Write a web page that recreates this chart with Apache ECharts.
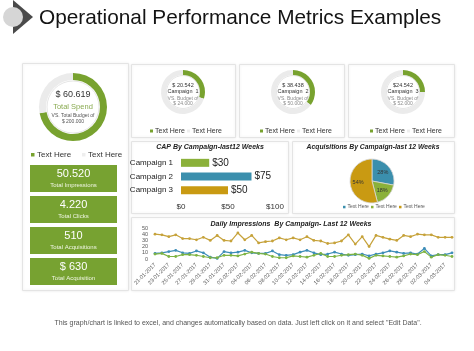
<!DOCTYPE html>
<html><head><meta charset="utf-8">
<script src="https://cdn.jsdelivr.net/npm/echarts@6/dist/echarts.min.js"></script>
<style>html,body{margin:0;padding:0;background:#fff}#c{width:474px;height:351px}</style>
</head><body><div id="c"></div>
<script>
const titleText = 'Operational Performance Metrics Examples';
const footerText = 'This graph/chart is linked to excel, and changes automatically based on data. Just left click on it and select "Edit Data".';

const spendShare = [72, 28];
const spendTexts = ['$ 60.619', 'Total Spend', 'VS. Total Budget of', '$ 200.000'];
const kpiValues = ['50.520', '4.220', '510', '$ 630'];
const kpiLabels = ['Total Impressions', 'Total Clicks', 'Total Acquisitions', 'Total Acquisition'];
const campaignNames = ['Campaign  1', 'Campaign  2', 'Campaign  3'];
const campaignSpend = ['$ 20.542', '$ 38.438', '$24.542'];
const campaignBudget = ['$ 24.000', '$ 50.000', '$ 52.000'];
const campaignShare = [30, 35, 25];
const legendLabels = ['Text Here', 'Text Here', 'Text Here'];

const barTitle = 'CAP By Campaign-last12 Weeks';
const barCategories = ['Campaign 1', 'Campaign 2', 'Campaign 3'];
const barValues = [30, 75, 50];

const pieTitle = 'Acquisitions By Campaign-last 12 Weeks';
const pieValues = [28, 18, 54];

const lineTitle = 'Daily Impressions  By Campaign- Last 12 Weeks';
const dates = ['21-01-2017','22-01-2017','23-01-2017','24-01-2017','25-01-2017','26-01-2017','27-01-2017','28-01-2017','29-01-2017','30-01-2017','31-01-2017',
'01-02-2017','02-02-2017','03-02-2017','04-02-2017','05-02-2017','06-02-2017','07-02-2017','08-02-2017','09-02-2017','10-02-2017','11-02-2017','12-02-2017','13-02-2017','14-02-2017',
'15-02-2017','16-02-2017','17-02-2017','18-02-2017','19-02-2017','20-02-2017','21-02-2017','22-02-2017','23-02-2017','24-02-2017','25-02-2017','26-02-2017','27-02-2017','28-02-2017',
'01-03-2017','02-03-2017','03-03-2017','04-03-2017','05-03-2017'];
const goldSeries = [40,39,36,39,33,33,31,35,30,38,30,29,42,31,38,26,28,29,34,31,34,31,36,30,29,25,26,29,39,24,36,20,38,35,32,30,38,36,40,39,39,35,35,35];
const blueSeries = [9,10,12,14,10,9,13,10,3,1,12,10,11,14,10,9,9,13,7,6,7,11,14,10,7,8,11,8,6,7,8,5,8,10,13,11,9,10,8,17,5,7,7,10];
const greenSeries = [8,9,4,4,7,7,6,4,2,2,6,6,5,8,11,9,8,4,2,2,5,4,3,6,9,4,4,6,7,8,6,1,6,5,4,3,5,8,7,12,3,7,6,4];

const FONT = 'Liberation Sans, Arial, sans-serif';
const GREEN = '#78a22f';
const C_GREEN = '#8bb13a', C_BLUE = '#3b8fad', C_GOLD = '#c99a12';

const chart = echarts.init(document.getElementById('c'), null, {renderer: 'canvas'});

function txt(x, y, text, size, fill, extra) {
  return {
    type: 'text', x: x, y: y, silent: true,
    style: Object.assign({text: text, fontSize: size, fill: fill, fontFamily: FONT, align: 'center', verticalAlign: 'middle'}, extra || {})
  };
}
function panel(x, y, w, h) {
  return {type: 'rect', silent: true, shape: {x: x, y: y, width: w, height: h}, style: {fill: '#fff', stroke: '#e4e4e4', lineWidth: 1, shadowBlur: 3, shadowColor: 'rgba(0,0,0,0.08)'}};
}

const graphics = [];
graphics.push(panel(22.5, 63.5, 106, 227));
graphics.push(panel(131.5, 64.5, 104, 73));
graphics.push(panel(239.5, 64.5, 105, 73));
graphics.push(panel(348.5, 64.5, 106, 73));
graphics.push(panel(131.5, 141.5, 157, 72));
graphics.push(panel(292.5, 141.5, 162, 72));
graphics.push(panel(131.5, 217.5, 323, 73));

graphics.push({type: 'polygon', silent: true, shape: {points: [[13, 0], [33, 17], [13, 34]]}, style: {fill: '#4a4a4a'}});
graphics.push({type: 'circle', silent: true, shape: {cx: 13, cy: 17, r: 10}, style: {fill: '#d6d6d6'}});
graphics.push(txt(39, 18, titleText, 20.8, '#141414', {align: 'left'}));

graphics.push({type: 'circle', silent: true, z: 1, shape: {cx: 73, cy: 107, r: 26}, style: {fill: 'none', stroke: '#e6e6e6', lineWidth: 1}});
graphics.push(txt(73, 95, spendTexts[0], 9, '#333'));
graphics.push(txt(73, 107, spendTexts[1], 7.5, '#8aab52'));
graphics.push(txt(73, 116, spendTexts[2], 5, '#555'));
graphics.push(txt(73, 122, spendTexts[3], 5, '#555'));

graphics.push({type: 'rect', silent: true, shape: {x: 31, y: 153, width: 3.5, height: 3.5}, style: {fill: GREEN}});
graphics.push(txt(37, 155, legendLabels[0], 8, '#333', {align: 'left'}));
graphics.push({type: 'rect', silent: true, shape: {x: 82, y: 153, width: 3.5, height: 3.5}, style: {fill: '#eeeeee'}});
graphics.push(txt(88, 155, legendLabels[1], 8, '#333', {align: 'left'}));

const boxTops = [165, 196, 227, 258];
kpiValues.forEach(function (v, i) {
  const t = boxTops[i];
  graphics.push({type: 'rect', silent: true, shape: {x: 30, y: t, width: 87, height: 27}, style: {fill: '#77a231'}});
  graphics.push(txt(73.5, t + 9, v, 11, '#fff'));
  graphics.push(txt(73.5, t + 20, kpiLabels[i], 6, '#f0f6e4'));
});

const campCx = [183, 293, 403];
campCx.forEach(function (cx, i) {
  graphics.push({type: 'circle', silent: true, z: 1, shape: {cx: cx, cy: 92, r: 16.5}, style: {fill: 'none', stroke: '#e6e6e6', lineWidth: 1}});
  graphics.push(txt(cx, 85, campaignSpend[i], 5.5, '#333'));
  graphics.push(txt(cx, 91, campaignNames[i], 5.5, '#333'));
  graphics.push(txt(cx, 98.5, 'VS. Budget of', 5, '#8a8a8a'));
  graphics.push(txt(cx, 104, campaignBudget[i], 5, '#8a8a8a'));
  graphics.push({type: 'rect', silent: true, shape: {x: cx - 33, y: 129.5, width: 3, height: 3}, style: {fill: GREEN}});
  graphics.push(txt(cx - 28, 131, legendLabels[0], 7, '#333', {align: 'left'}));
  graphics.push({type: 'rect', silent: true, shape: {x: cx + 4, y: 129.5, width: 3, height: 3}, style: {fill: '#eeeeee'}});
  graphics.push(txt(cx + 9, 131, legendLabels[1], 7, '#333', {align: 'left'}));
});

graphics.push(txt(210, 147.5, barTitle, 7, '#222', {fontWeight: 'bold', fontStyle: 'italic'}));
graphics.push(txt(373, 147.5, pieTitle, 6.8, '#222', {fontWeight: 'bold', fontStyle: 'italic'}));
graphics.push(txt(291, 224, lineTitle, 7, '#222', {fontWeight: 'bold', fontStyle: 'italic'}));

const pieColors = [C_BLUE, C_GREEN, C_GOLD];
[343, 371, 399].forEach(function (x, i) {
  graphics.push({type: 'rect', silent: true, shape: {x: x, y: 205.8, width: 2.5, height: 2.5}, style: {fill: pieColors[i]}});
  graphics.push(txt(x + 4.5, 207, legendLabels[i], 5, '#555', {align: 'left'}));
});

graphics.push(txt(238, 323, footerText, 7, '#555'));

function donut(center, radius, share, color) {
  return {
    type: 'pie', silent: true, center: center, radius: radius, startAngle: 90, clockwise: true,
    label: {show: false}, labelLine: {show: false}, emphasis: {disabled: true}, animation: false, z: 3,
    data: [{value: share[0], itemStyle: {color: color}}, {value: share[1], itemStyle: {color: '#ebebeb'}}]
  };
}

const series = [];
series.push(donut([73, 107], [27, 34], spendShare, GREEN));
campCx.forEach(function (cx, i) {
  series.push(donut([cx, 92], [17, 22], [campaignShare[i], 100 - campaignShare[i]], GREEN));
});
series.push({
  type: 'bar', xAxisIndex: 0, yAxisIndex: 0, barWidth: 8, animation: false, silent: true,
  data: barValues.map(function (v, i) { return {value: v, itemStyle: {color: pieColors[[1, 0, 2][i]]}}; }),
  label: {show: true, position: 'right', distance: 3, fontSize: 10, color: '#222', fontFamily: FONT, formatter: function (p) { return '$' + p.value; }}
});
series.push({
  type: 'pie', center: [372, 181], radius: 22, startAngle: 90, clockwise: true, animation: false, silent: true,
  itemStyle: {borderColor: '#d8d8d8', borderWidth: 0.8},
  label: {show: true, position: 'inner', fontSize: 5.5, color: '#333', fontFamily: FONT, formatter: function (p) { return p.value + '%'; }},
  labelLine: {show: false},
  data: pieValues.map(function (v, i) { return {value: v, name: legendLabels[i], itemStyle: {color: pieColors[i]}}; })
});
[[goldSeries, '#c6a23a'], [blueSeries, '#3d8db8'], [greenSeries, '#7db342']].forEach(function (s) {
  series.push({
    type: 'line', xAxisIndex: 1, yAxisIndex: 1, data: s[0], animation: false, silent: true,
    symbol: 'circle', symbolSize: 2.8, lineStyle: {color: s[1], width: 1.2}, itemStyle: {color: s[1]}
  });
});

chart.setOption({
  backgroundColor: '#fff',
  animation: false,
  graphic: graphics,
  grid: [
    {left: 181, top: 156, width: 94, height: 41},
    {left: 155, top: 228, width: 297, height: 31}
  ],
  xAxis: [
    {type: 'value', gridIndex: 0, min: 0, max: 100, interval: 50,
     axisLine: {show: false}, axisTick: {show: false}, splitLine: {show: false},
     axisLabel: {fontSize: 8, color: '#333', fontFamily: FONT, margin: 6, formatter: function (v) { return '$' + v; }}},
    {type: 'category', gridIndex: 1, data: dates, boundaryGap: false,
     axisLine: {show: false}, axisTick: {show: false},
     axisLabel: {interval: 1, rotate: 45, fontSize: 5.5, color: '#555', fontFamily: FONT, margin: 5}}
  ],
  yAxis: [
    {type: 'category', gridIndex: 0, data: barCategories, inverse: true,
     axisLine: {show: false}, axisTick: {show: false},
     axisLabel: {fontSize: 8, color: '#222', fontFamily: FONT, margin: 8}},
    {type: 'value', gridIndex: 1, min: 0, max: 50, interval: 10,
     axisLine: {show: false}, axisTick: {show: false}, splitLine: {show: false},
     axisLabel: {fontSize: 5.5, color: '#555', fontFamily: FONT, margin: 7}}
  ],
  series: series
});
</script></body></html>
